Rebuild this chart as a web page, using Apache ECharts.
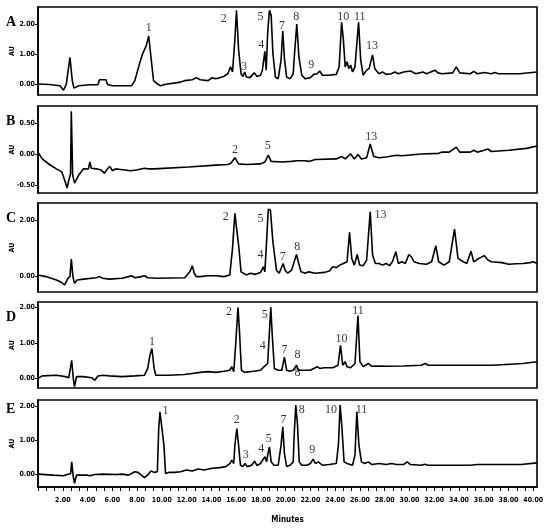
<!DOCTYPE html>
<html>
<head>
<meta charset="utf-8">
<script src="https://cdn.jsdelivr.net/npm/echarts@6/dist/echarts.min.js"></script>
<style>
html,body{margin:0;padding:0;background:#fff;}
#chart{width:550px;height:529px;}
</style>
</head>
<body>
<div id="chart"></div>
<script>
// ---------- Data (time in minutes, response in AU) ----------
const aTime = [0,0.92,1.78,2.06,2.29,2.58,2.77,2.9,3.29,4.19,4.84,4.97,5.49,5.62,6.01,7.56,7.82,8.21,8.47,8.73,8.94,9.12,9.33,9.64,9.91,10.23,11.51,11.82,12.46,12.78,13.1,13.74,14.06,14.37,15.01,15.33,15.55,15.71,15.9,16.03,16.2,16.4,16.55,16.69,16.83,17.12,17.46,17.69,17.97,18.12,18.32,18.43,18.55,18.69,18.83,18.97,19.17,19.4,19.63,19.77,19.9,20.08,20.35,20.61,20.74,20.9,21.07,21.3,21.58,21.99,22.27,22.55,22.75,22.97,23.53,24.09,24.32,24.52,24.66,24.81,24.96,25.1,25.25,25.4,25.6,25.89,26.06,26.26,26.54,26.74,27.02,27.2,27.54,27.82,28.11,28.53,28.82,29.1,29.52,30.09,30.51,31.08,31.37,32.07,32.3,32.64,33.49,33.78,34.06,34.91,35.19,35.48,36.04,36.61,36.9,37.18,38.88,39.02,40.3];
const aAU = [0,-0.02,-0.06,-0.21,0,0.89,0.11,-0.14,-0.06,-0.03,-0.03,0.14,0.14,-0.02,-0.06,-0.06,0.11,0.69,1.03,1.26,1.6,0.91,0.11,0,-0.06,-0.02,0.06,0.11,0.14,0.21,0.14,0.11,0.21,0.17,0.25,0.34,0.57,0.4,1.49,2.46,1.14,0.34,0.25,0.4,0.23,0.21,0.37,0.25,0.29,0.46,1.09,0.46,1.71,2.46,2.29,1.03,0.23,0.17,0.8,1.77,0.86,0.23,0.17,0.34,1.14,2.0,0.91,0.29,0.17,0.21,0.32,0.34,0.43,0.29,0.29,0.32,0.57,2.06,1.49,0.57,0.74,0.51,0.63,0.4,0.57,2.06,0.8,0.29,0.46,0.51,0.97,0.51,0.34,0.4,0.32,0.34,0.4,0.34,0.4,0.43,0.34,0.4,0.34,0.46,0.37,0.34,0.37,0.57,0.37,0.34,0.42,0.34,0.38,0.34,0.38,0.34,0.34,0.4,0.4];

const bTime = [0,0.34,0.92,1.49,1.92,2.15,2.35,2.49,2.63,2.69,2.8,2.95,3.29,3.68,4.07,4.19,4.3,4.71,5.1,5.36,5.62,5.8,6.01,6.27,6.66,7.05,7.44,7.96,8.6,8.86,9.38,12.15,14.37,15.33,15.58,15.9,16.2,16.83,17.97,18.32,18.6,18.83,19.69,20.48,20.88,21.58,21.86,22.41,24.09,24.52,24.81,25.25,25.55,25.84,26.12,26.54,26.83,27.11,27.54,28.11,28.96,29.1,29.38,30.94,32.36,32.64,33.21,33.78,34.06,34.91,35.19,35.48,36.04,36.33,36.61,38.03,39.45,40.3];
const bAU = [0.03,-0.08,-0.17,-0.24,-0.29,-0.42,-0.55,-0.42,-0.32,0.69,-0.34,-0.47,-0.34,-0.24,-0.24,-0.13,-0.23,-0.24,-0.26,-0.31,-0.24,-0.2,-0.27,-0.24,-0.25,-0.26,-0.27,-0.26,-0.23,-0.24,-0.24,-0.21,-0.18,-0.17,-0.15,-0.06,-0.16,-0.17,-0.16,-0.13,-0.02,-0.12,-0.13,-0.12,-0.11,-0.11,-0.12,-0.09,-0.08,-0.04,-0.08,0,-0.08,-0.01,-0.08,-0.06,0.16,-0.04,-0.06,-0.05,-0.02,0.01,-0.03,0,0.01,0.03,0.03,0.11,0.03,0.03,0.06,0.03,0.06,0.08,0.04,0.06,0.09,0.13];

const cTime = [0,0.63,1.49,1.92,2.15,2.41,2.58,2.69,2.82,2.95,3.16,3.68,4.71,4.97,5.23,5.75,6.79,7.3,7.56,7.82,8.34,8.6,8.86,9.64,11.85,12.26,12.46,12.62,12.78,13.1,13.74,14.37,15.01,15.49,15.71,15.9,16.03,16.2,16.4,16.83,17.17,17.55,17.97,18.2,18.32,18.43,18.6,18.77,18.97,19.26,19.48,19.69,19.8,19.96,20.17,20.48,20.69,20.88,21.02,21.24,21.58,21.86,22.41,23.11,23.53,23.81,24.09,24.37,24.66,24.96,25.16,25.34,25.55,25.78,25.98,26.26,26.54,26.83,27.02,27.25,27.54,27.82,28.11,28.39,28.62,28.9,29.1,29.38,29.67,29.95,30.15,30.37,30.8,31.37,31.79,32.13,32.36,32.78,33.21,33.64,33.92,34.35,34.63,34.97,35.19,35.62,36.04,36.33,36.61,37.46,38.03,38.6,39.16,39.73,40.01,40.3];
const cAU = [0.04,-0.02,-0.14,-0.23,-0.32,-0.08,-0.02,0.61,-0.02,-0.26,-0.14,-0.11,-0.06,-0.02,-0.08,-0.11,-0.08,-0.02,0.01,-0.06,-0.02,0.01,-0.06,-0.08,-0.06,0.15,0.37,0.1,-0.02,-0.02,0.01,0.01,-0.02,0.04,0.99,2.24,2.2,1.11,0.15,0.04,0.1,0.06,0.13,0.33,0.15,0.99,2.39,2.36,1.23,0.21,0.1,0.33,0.45,0.21,0.1,0.21,0.51,0.77,0.51,0.15,0.1,0.15,0.1,0.13,0.18,0.33,0.3,0.39,0.45,0.51,1.56,0.63,0.39,0.77,0.39,0.37,0.57,2.3,0.75,0.45,0.45,0.39,0.45,0.37,0.51,0.87,0.45,0.51,0.45,0.77,0.69,0.51,0.45,0.42,0.51,1.08,0.51,0.39,0.51,1.68,0.63,0.51,0.45,0.89,0.51,0.63,0.73,0.57,0.51,0.48,0.42,0.44,0.45,0.48,0.51,0.45];

const dTime = [0,0.34,1.49,2.21,2.49,2.72,2.85,2.95,3.11,3.68,4.33,4.59,4.84,5.23,5.75,6.79,7.82,8.6,8.86,9.04,9.2,9.38,9.51,10.55,11.82,12.46,13.1,13.74,14.37,15.01,15.49,15.65,15.81,15.96,16.15,16.26,16.43,16.69,17.4,17.97,18.26,18.4,18.55,18.66,18.8,18.92,19.09,19.4,19.69,19.9,20.08,20.35,20.61,20.88,21.02,21.58,21.99,22.27,22.55,22.75,23.11,23.81,24.23,24.43,24.61,24.81,24.96,25.25,25.6,25.84,26.0,26.26,26.68,26.96,27.54,28.11,29.52,30.94,31.28,31.51,32.64,33.78,35.19,36.75,36.9,39.16,39.3,40.3];
const dAU = [0,0.07,0.09,0.05,0.02,0.51,0,-0.23,0.05,0.05,0.02,-0.05,0.07,0.09,0.07,0.05,0.07,0.09,0.28,0.65,0.84,0.28,0.09,0.09,0.11,0.14,0.17,0.19,0.17,0.2,0.23,0.33,0.19,0.93,2.0,1.4,0.23,0.17,0.2,0.23,0.33,0.37,0.42,1.12,2.0,1.21,0.28,0.23,0.23,0.6,0.23,0.2,0.23,0.37,0.23,0.23,0.23,0.28,0.33,0.28,0.3,0.3,0.37,0.93,0.37,0.47,0.33,0.3,0.42,1.77,0.47,0.33,0.42,0.34,0.35,0.34,0.35,0.37,0.42,0.37,0.37,0.37,0.37,0.37,0.42,0.42,0.47,0.47];

const eTime = [0,1.2,2.06,2.35,2.64,2.72,2.85,2.95,3.11,3.94,4.2,4.59,5.23,6.27,6.79,7.3,7.82,8.08,8.34,8.6,8.86,9.12,9.38,9.64,9.75,9.85,10.01,10.17,10.3,10.55,11.03,11.51,11.98,12.46,12.94,13.42,14.06,14.69,15.17,15.49,15.65,15.81,15.9,16.06,16.2,16.35,16.55,16.72,16.89,17.26,17.49,17.69,17.97,18.12,18.32,18.46,18.55,18.69,18.83,19.06,19.4,19.63,19.77,19.9,20.08,20.35,20.61,20.69,20.82,20.96,21.1,21.3,21.72,22.0,22.22,22.41,22.64,22.97,23.53,24.09,24.26,24.4,24.55,24.72,24.96,25.1,25.4,25.6,25.75,25.92,26.12,26.4,26.68,26.96,27.54,28.11,28.53,28.96,29.52,29.81,30.09,30.94,31.23,31.51,32.64,33.78,34.91,35.48,37.18,39.02,39.16,40.3];
const eAU = [0,-0.03,-0.05,-0.01,0.02,0.36,-0.08,-0.27,-0.03,-0.03,-0.05,-0.01,0,-0.01,0,-0.03,0.07,0.05,-0.03,-0.1,-0.03,0.09,0.05,0.07,1.34,1.83,1.78,0.85,0.02,0.05,0.05,0.07,0.12,0.09,0.15,0.12,0.17,0.19,0.22,0.31,0.41,0.31,0.85,1.34,0.85,0.26,0.22,0.31,0.22,0.26,0.38,0.25,0.31,0.28,0.51,0.36,0.56,0.8,0.36,0.26,0.26,0.85,1.39,0.61,0.22,0.26,0.36,1.15,2.03,1.44,0.36,0.26,0.26,0.31,0.44,0.31,0.36,0.26,0.28,0.31,0.85,2.03,1.34,0.36,0.31,0.26,0.26,0.56,1.83,0.85,0.36,0.31,0.36,0.28,0.31,0.28,0.31,0.28,0.28,0.36,0.28,0.26,0.29,0.26,0.26,0.26,0.26,0.28,0.28,0.28,0.33,0.33];

// Peak annotations (label, time, AU)
const aPeakNames = ['1','2','3','4','5','7','8','9','10','11','13'];
const aPeakTime  = [8.94,15.01,16.63,18.02,17.97,19.71,20.85,22.06,24.66,25.98,26.97];
const aPeakAU    = [1.89,2.17,0.57,1.31,2.23,1.94,2.23,0.63,2.23,2.23,1.26];

const bPeakNames = ['2','5','13'];
const bPeakTime  = [15.9,18.55,26.91];
const bPeakAU    = [0.07,0.13,0.27];

const cPeakNames = ['2','5','4','7','8','13'];
const cPeakTime  = [15.17,17.97,17.97,19.77,20.93,27.67];
const cPeakAU    = [2.12,2.06,0.77,0.69,1.05,2.2];

const dPeakNames = ['1','2','4','5','7','8','8','10','11'];
const dPeakTime  = [9.2,15.43,18.15,18.32,19.9,20.96,20.96,24.52,25.84];
const dPeakAU    = [1.02,1.86,0.93,1.79,0.79,0.65,0.17,1.12,1.91];

const ePeakNames = ['1','2','3','4','5','7','8','9','10','11'];
const ePeakTime  = [10.3,16.06,16.78,18.02,18.63,19.83,21.3,22.14,23.67,26.12];
const ePeakAU    = [1.86,1.59,0.56,0.75,1.05,1.59,1.88,0.71,1.88,1.88];

const panelLetters = ['A','B','C','D','E'];
const yTickValues = [[0,1,2],[-0.5,0,0.5],[0,2],[0,1,2],[0,1,2]];
const yRanges = [[-0.37,2.57],[-0.63,0.774],[-0.57,2.61],[-0.27,2.15],[-0.38,2.18]];
const xTickLabels = [2,4,6,8,10,12,14,16,18,20,22,24,26,28,30,32,34,36,38,40];
const xAxisName = 'Minutes';
const yAxisName = 'AU';

// ---------- Layout ----------
const gridTops = [7,106,203,302,400];
const gridHeights = [88,87,89,86,87];
const letterY = [23,122,219,318,410];
const X_MIN = 0, X_MAX = 40.3;

const traces = [[aTime,aAU],[bTime,bAU],[cTime,cAU],[dTime,dAU],[eTime,eAU]];
const peaks = [[aPeakNames,aPeakTime,aPeakAU],[bPeakNames,bPeakTime,bPeakAU],[cPeakNames,cPeakTime,cPeakAU],[dPeakNames,dPeakTime,dPeakAU],[ePeakNames,ePeakTime,ePeakAU]];

const tickFont = "'Liberation Sans Narrow','DejaVu Sans Condensed','Liberation Sans',sans-serif";
const xMinorTicks = [];
for (let i = 0; i <= 60; i++) xMinorTicks.push(+(i * 2 / 3).toFixed(4));

const grid = [], xAxis = [], yAxis = [], series = [], graphic = [];
for (let i = 0; i < 5; i++) {
  grid.push({left: 38, right: 13, top: gridTops[i], height: gridHeights[i], containLabel: false, outerBoundsMode: 'none',
    show: true, borderColor: '#000', borderWidth: 1.6, backgroundColor: 'transparent'});
  const isLast = i === 4;
  xAxis.push({
    type: 'value', gridIndex: i, min: X_MIN, max: X_MAX, show: isLast,
    axisLine: {show: true, onZero: false, lineStyle: {color: '#000', width: 1.6}},
    axisTick: {show: true, inside: false, length: 4, customValues: xMinorTicks, lineStyle: {color: '#000', width: 1}},
    axisLabel: {show: true, customValues: xTickLabels, formatter: v => v.toFixed(2), fontFamily: tickFont, fontWeight: 'bold', fontSize: 7, color: '#000', margin: 10},
    splitLine: {show: false},
    name: isLast ? xAxisName : '', nameLocation: 'middle', nameGap: 29, nameMoveOverlap: false,
    nameTextStyle: {fontFamily: tickFont, fontSize: 8, fontWeight: 'bold', color: '#000'}
  });
  yAxis.push({
    type: 'value', gridIndex: i, min: yRanges[i][0], max: yRanges[i][1],
    axisLine: {show: true, lineStyle: {color: '#000', width: 1.6}},
    axisTick: {show: true, length: 3, customValues: yTickValues[i], lineStyle: {color: '#000'}},
    axisLabel: {customValues: yTickValues[i], formatter: v => v.toFixed(2), fontFamily: tickFont, fontWeight: 'bold', fontSize: 7, color: '#000', margin: 3},
    splitLine: {show: false},
    name: yAxisName, nameLocation: 'middle', nameRotate: 90, nameGap: 22, nameMoveOverlap: false,
    nameTextStyle: {fontFamily: tickFont, fontSize: 7, fontWeight: 'bold', color: '#000'}
  });
  const [t, v] = traces[i];
  series.push({
    type: 'line', xAxisIndex: i, yAxisIndex: i, showSymbol: false, symbol: 'none',
    data: t.map((x, k) => [x, v[k]]),
    lineStyle: {color: '#000', width: 1.6}, animation: false, silent: true
  });
  const [pn, pt, pv] = peaks[i];
  series.push({
    type: 'scatter', xAxisIndex: i, yAxisIndex: i, symbolSize: 1,
    itemStyle: {color: 'rgba(0,0,0,0)'},
    data: pn.map((n, k) => ({name: n, value: [pt[k], pv[k]]})),
    label: {show: true, position: 'inside', formatter: '{b}', fontFamily: "'Liberation Serif','Times New Roman',serif", fontSize: 12, color: '#000'},
    animation: false, silent: true
  });
  graphic.push({type: 'text', left: 6, top: letterY[i] - 8,
    style: {text: panelLetters[i], font: "bold 14px 'Liberation Serif', serif", fill: '#000'}});
}

const chart = echarts.init(document.getElementById('chart'), null, {renderer: 'canvas'});
chart.setOption({backgroundColor: '#fff', animation: false, grid, xAxis, yAxis, series, graphic});
</script>
</body>
</html>
